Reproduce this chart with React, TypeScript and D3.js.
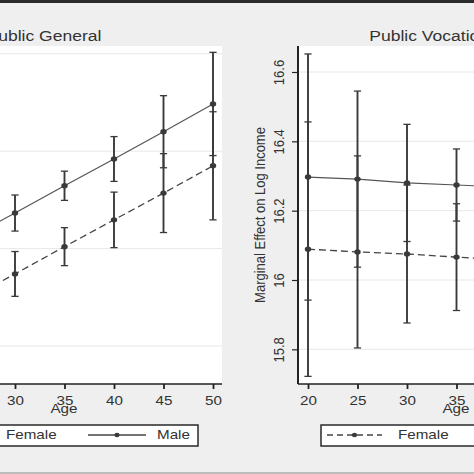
import React, { useEffect, useRef } from 'react';
import * as d3 from 'd3';

const ages = [20, 25, 30, 35, 40, 45, 50];

// Public General (estimate, half width of the CI)
const generalMale = [16.162, 16.218, 16.273, 16.329, 16.384, 16.44, 16.497];
const generalMaleCI = [0.08, 0.05, 0.037, 0.03, 0.046, 0.074, 0.106];
const generalFemale = [16.037, 16.093, 16.148, 16.204, 16.259, 16.314, 16.37];
const generalFemaleCI = [0.09, 0.06, 0.046, 0.039, 0.057, 0.081, 0.111];
const generalTicks = [16, 16.2, 16.4, 16.6];

// Public Vocational
const vocMale = [16.297, 16.291, 16.28, 16.274, 16.268, 16.262, 16.256];
const vocMaleCI = [0.355, 0.254, 0.169, 0.104, 0.12, 0.2, 0.29];
const vocFemale = [16.089, 16.081, 16.075, 16.066, 16.058, 16.05, 16.042];
const vocFemaleCI = [0.367, 0.277, 0.199, 0.154, 0.16, 0.23, 0.32];
const vocTicks = [15.8, 16, 16.2, 16.4, 16.6];

const legendLabels = ['Female', 'Male'];

const W = 474;
const H = 474;
const TOP = 46;
const BOTTOM = 384;
const PW = 316;
const SX = 1.17; // source figure is stretched horizontally
const FONT = '"Liberation Sans", Arial, sans-serif';
const INK = '#3a3a3a';
const TEXT = '#333';

const panels = [
  {
    title: 'Public General',
    left: -94,
    yDomain: [15.922, 16.616],
    ticks: generalTicks,
    male: generalMale,
    maleCI: generalMaleCI,
    female: generalFemale,
    femaleCI: generalFemaleCI,
  },
  {
    title: 'Public Vocational',
    left: 298,
    yDomain: [15.7, 16.675],
    ticks: vocTicks,
    male: vocMale,
    maleCI: vocMaleCI,
    female: vocFemale,
    femaleCI: vocFemaleCI,
  },
];

const App = () => {
  const ref = useRef<SVGSVGElement>(null);

  useEffect(() => {
    const svg = d3.select(ref.current);
    svg.selectAll('*').remove();

    svg.append('rect').attr('width', W).attr('height', H).attr('fill', '#efefef');

    panels.forEach(p => {
      const g = svg.append('g');

      g.append('rect')
        .attr('x', p.left)
        .attr('y', TOP)
        .attr('width', PW)
        .attr('height', BOTTOM - TOP)
        .attr('fill', '#fff');

      const x = d3.scaleLinear().domain([20, 50]).range([p.left + 10, p.left + PW - 9]);
      const y = d3.scaleLinear().domain(p.yDomain).range([BOTTOM, TOP]);

      // gridlines
      g.selectAll('.grid')
        .data(p.ticks)
        .enter()
        .append('line')
        .attr('x1', p.left)
        .attr('x2', p.left + PW)
        .attr('y1', d => y(d))
        .attr('y2', d => y(d))
        .attr('stroke', '#e8e8e8')
        .attr('stroke-width', 1);

      const line = d3.line<number>()
        .x((d, i) => x(ages[i]))
        .y(d => y(d));

      g.append('path')
        .attr('d', line(p.female))
        .attr('fill', 'none')
        .attr('stroke', '#444')
        .attr('stroke-width', 1.3)
        .attr('stroke-dasharray', '7,4');

      g.append('path')
        .attr('d', line(p.male))
        .attr('fill', 'none')
        .attr('stroke', '#555')
        .attr('stroke-width', 1.2);

      // error bars + markers
      [[p.male, p.maleCI], [p.female, p.femaleCI]].forEach(([est, ci]) => {
        ages.forEach((a, i) => {
          const cx = x(a);
          const lo = y(est[i] - ci[i]);
          const hi = y(est[i] + ci[i]);
          g.append('line')
            .attr('x1', cx).attr('x2', cx)
            .attr('y1', lo).attr('y2', hi)
            .attr('stroke', INK).attr('stroke-width', 1.9);
          [lo, hi].forEach(cy => {
            g.append('line')
              .attr('x1', cx - 3.6).attr('x2', cx + 3.6)
              .attr('y1', cy).attr('y2', cy)
              .attr('stroke', INK).attr('stroke-width', 1.3);
          });
          g.append('ellipse')
            .attr('cx', cx).attr('cy', y(est[i]))
            .attr('rx', 3.2).attr('ry', 2.7)
            .attr('fill', INK);
        });
      });

      // x axis
      const gx = g.append('g')
        .attr('transform', `translate(0,${BOTTOM})`)
        .call(d3.axisBottom(x).tickValues(ages).tickSize(5).tickSizeOuter(0));
      gx.attr('font-family', FONT).attr('font-size', 13);
      gx.select('.domain').attr('d', `M${p.left},0H${p.left + PW}`).attr('stroke', '#222').attr('stroke-width', 1.3);
      gx.selectAll('.tick line').attr('stroke', '#222').attr('stroke-width', 1.8);
      gx.selectAll('text')
        .attr('y', 21)
        .attr('dy', null)
        .attr('fill', TEXT)
        .attr('transform', `scale(${SX},1)`);

      // y axis
      const gy = g.append('g')
        .attr('transform', `translate(${p.left},0)`)
        .call(d3.axisLeft(y).tickValues(p.ticks).tickSize(6).tickSizeOuter(0).tickFormat(d3.format('~g')));
      gy.attr('font-family', FONT).attr('font-size', 13);
      gy.select('.domain').attr('d', `M0,${TOP}V${BOTTOM}`).attr('stroke', '#222').attr('stroke-width', 2);
      gy.selectAll('.tick line').attr('stroke', '#222').attr('stroke-width', 1.2);
      gy.selectAll('text')
        .attr('x', 0)
        .attr('dy', null)
        .attr('text-anchor', 'middle')
        .attr('fill', TEXT)
        .attr('transform', `translate(-14,0) scale(${SX},1) rotate(-90)`);

      // titles
      g.append('text')
        .attr('transform', `translate(${p.left + 138},41) scale(${SX},1)`)
        .attr('text-anchor', 'middle')
        .style('font-family', FONT)
        .style('font-size', '15px')
        .attr('fill', TEXT)
        .text(p.title);

      g.append('text')
        .attr('transform', `translate(${p.left + 158},413) scale(${SX},1)`)
        .attr('text-anchor', 'middle')
        .style('font-family', FONT)
        .style('font-size', '13px')
        .attr('fill', TEXT)
        .text('Age');

      g.append('text')
        .attr('transform', `translate(${p.left - 33},215) scale(${SX},1) rotate(-90)`)
        .attr('text-anchor', 'middle')
        .style('font-family', FONT)
        .style('font-size', '13px')
        .attr('fill', TEXT)
        .text('Marginal Effect on Log Income');

      // legend
      const L = p.left + 23;
      const ly = 435;
      g.append('rect')
        .attr('x', L).attr('y', 425)
        .attr('width', 269).attr('height', 21)
        .attr('fill', '#fff')
        .attr('stroke', '#2a2a2a')
        .attr('stroke-width', 1.5);

      const items = [
        { x0: L + 6, x1: L + 61, dash: '6,4', tx: L + 77 },
        { x0: L + 159, x1: L + 217, dash: null, tx: L + 228 },
      ];
      items.forEach((it, i) => {
        g.append('line')
          .attr('x1', it.x0).attr('x2', it.x1)
          .attr('y1', ly).attr('y2', ly)
          .attr('stroke', '#444')
          .attr('stroke-width', 1.3)
          .attr('stroke-dasharray', it.dash);
        g.append('ellipse')
          .attr('cx', (it.x0 + it.x1) / 2).attr('cy', ly)
          .attr('rx', 2.6).attr('ry', 2.2)
          .attr('fill', INK);
        g.append('text')
          .attr('transform', `translate(${it.tx},439) scale(${SX},1)`)
          .style('font-family', FONT)
          .style('font-size', '13px')
          .attr('fill', TEXT)
          .text(legendLabels[i]);
      });
    });

    // frame strips
    svg.append('rect').attr('width', W).attr('height', 3).attr('fill', '#2b2b2b');
    svg.append('rect').attr('y', H - 2).attr('width', W).attr('height', 2).attr('fill', '#bdbdbd');
  }, []);

  return (
    <svg
      ref={ref}
      width={W}
      height={H}
      style={{ position: 'absolute', left: 0, top: 0, display: 'block' }}
    />
  );
};

export default App;
